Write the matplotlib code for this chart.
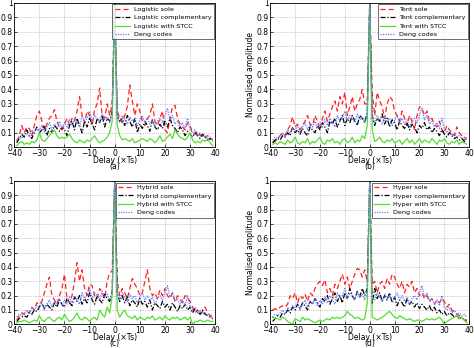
import numpy as np
import matplotlib
matplotlib.use("Agg")
import matplotlib.pyplot as plt

# delays -39 .. 39
delay = list(range(-39, 40))

# Deng codes (same reference in all four panels)
deng = [0.05, 0.07, 0.06, 0.08, 0.10, 0.07, 0.12, 0.10, 0.13, 0.12,
        0.15, 0.10, 0.14, 0.17, 0.12, 0.16, 0.14, 0.18, 0.13, 0.17,
        0.14, 0.19, 0.15, 0.20, 0.17, 0.14, 0.22, 0.18, 0.20, 0.25,
        0.18, 0.22, 0.20, 0.17, 0.23, 0.19, 0.21, 0.17, 0.22, 1.00,
        0.20, 0.17, 0.22, 0.19, 0.16, 0.21, 0.18, 0.20, 0.15, 0.19,
        0.22, 0.17, 0.20, 0.16, 0.19, 0.14, 0.18, 0.20, 0.17, 0.22,
        0.27, 0.19, 0.22, 0.16, 0.18, 0.14, 0.17, 0.13, 0.20, 0.12,
        0.10, 0.12, 0.08, 0.10, 0.07, 0.08, 0.06, 0.07, 0.05]

# (a) logistic
logistic_sole = [0.04, 0.08, 0.15, 0.10, 0.14, 0.13, 0.08, 0.15, 0.22, 0.25,
                 0.18, 0.12, 0.16, 0.20, 0.22, 0.26, 0.18, 0.14, 0.12, 0.16,
                 0.20, 0.15, 0.20, 0.18, 0.25, 0.35, 0.22, 0.17, 0.25, 0.22,
                 0.15, 0.26, 0.30, 0.41, 0.22, 0.20, 0.30, 0.22, 0.30, 1.00,
                 0.25, 0.20, 0.17, 0.22, 0.28, 0.43, 0.32, 0.22, 0.30, 0.25,
                 0.18, 0.15, 0.20, 0.22, 0.30, 0.18, 0.15, 0.20, 0.25, 0.12,
                 0.10, 0.20, 0.28, 0.29, 0.20, 0.16, 0.14, 0.12, 0.17, 0.15,
                 0.10, 0.09, 0.11, 0.08, 0.09, 0.07, 0.08, 0.07, 0.05]
logistic_comp = [0.03, 0.06, 0.09, 0.07, 0.12, 0.08, 0.06, 0.10, 0.14, 0.10,
                 0.12, 0.15, 0.08, 0.13, 0.10, 0.15, 0.13, 0.11, 0.14, 0.12,
                 0.08, 0.15, 0.18, 0.12, 0.20, 0.15, 0.10, 0.18, 0.14, 0.20,
                 0.16, 0.12, 0.20, 0.17, 0.22, 0.14, 0.20, 0.18, 0.25, 1.00,
                 0.22, 0.18, 0.20, 0.15, 0.22, 0.18, 0.14, 0.20, 0.10, 0.16,
                 0.13, 0.18, 0.15, 0.11, 0.19, 0.14, 0.12, 0.16, 0.13, 0.18,
                 0.14, 0.20, 0.15, 0.13, 0.10, 0.14, 0.12, 0.08, 0.11, 0.09,
                 0.07, 0.10, 0.08, 0.06, 0.09, 0.07, 0.05, 0.06, 0.04]
logistic_stcc = [0.01, 0.03, 0.04, 0.02, 0.03, 0.02, 0.04, 0.03, 0.05, 0.10,
                 0.05, 0.04, 0.06, 0.08, 0.10, 0.12, 0.08, 0.06, 0.07, 0.06,
                 0.07, 0.09, 0.06, 0.04, 0.03, 0.05, 0.04, 0.03, 0.05, 0.04,
                 0.06, 0.08, 0.05, 0.03, 0.04, 0.05, 0.07, 0.10, 0.18, 1.00,
                 0.15, 0.08, 0.05, 0.06, 0.05, 0.04, 0.06, 0.03, 0.04, 0.05,
                 0.06, 0.05, 0.04, 0.06, 0.05, 0.03, 0.05, 0.08, 0.04, 0.05,
                 0.07, 0.09, 0.06, 0.12, 0.09, 0.07, 0.06, 0.05, 0.07, 0.10,
                 0.05, 0.03, 0.04, 0.03, 0.05, 0.04, 0.06, 0.03, 0.01]

# (b) tent
tent_sole = [0.04, 0.04, 0.06, 0.08, 0.10, 0.08, 0.12, 0.15, 0.21, 0.14,
             0.16, 0.12, 0.15, 0.18, 0.22, 0.16, 0.15, 0.22, 0.18, 0.12,
             0.20, 0.25, 0.18, 0.23, 0.28, 0.32, 0.25, 0.35, 0.30, 0.38,
             0.22, 0.28, 0.35, 0.25, 0.30, 0.33, 0.40, 0.30, 0.30, 1.00,
             0.38, 0.22, 0.38, 0.32, 0.28, 0.20, 0.30, 0.35, 0.33, 0.25,
             0.22, 0.18, 0.25, 0.20, 0.15, 0.22, 0.18, 0.12, 0.22, 0.28,
             0.27, 0.22, 0.25, 0.18, 0.20, 0.16, 0.14, 0.18, 0.12, 0.10,
             0.15, 0.12, 0.10, 0.08, 0.14, 0.10, 0.08, 0.05, 0.07]
tent_comp = [0.03, 0.05, 0.06, 0.05, 0.08, 0.07, 0.10, 0.08, 0.14, 0.10,
             0.12, 0.09, 0.13, 0.10, 0.08, 0.14, 0.12, 0.10, 0.15, 0.12,
             0.17, 0.14, 0.10, 0.18, 0.16, 0.20, 0.14, 0.18, 0.22, 0.15,
             0.20, 0.17, 0.22, 0.18, 0.15, 0.22, 0.20, 0.17, 0.24, 1.00,
             0.22, 0.15, 0.20, 0.18, 0.23, 0.16, 0.20, 0.14, 0.19, 0.17,
             0.12, 0.18, 0.15, 0.13, 0.17, 0.12, 0.16, 0.14, 0.10, 0.15,
             0.13, 0.17, 0.12, 0.14, 0.10, 0.13, 0.11, 0.08, 0.12, 0.09,
             0.07, 0.10, 0.08, 0.06, 0.07, 0.05, 0.06, 0.04, 0.04]
tent_stcc = [0.02, 0.03, 0.02, 0.04, 0.03, 0.02, 0.05, 0.03, 0.04, 0.07,
             0.03, 0.02, 0.04, 0.03, 0.06, 0.02, 0.04, 0.03, 0.05, 0.07,
             0.03, 0.02, 0.05, 0.04, 0.06, 0.03, 0.04, 0.02, 0.05, 0.06,
             0.03, 0.04, 0.07, 0.03, 0.05, 0.04, 0.08, 0.06, 0.15, 1.00,
             0.12, 0.04, 0.05, 0.07, 0.04, 0.03, 0.05, 0.04, 0.06, 0.03,
             0.04, 0.05, 0.02, 0.04, 0.06, 0.03, 0.05, 0.02, 0.04, 0.06,
             0.03, 0.05, 0.04, 0.03, 0.06, 0.04, 0.02, 0.05, 0.04, 0.06,
             0.03, 0.02, 0.04, 0.03, 0.05, 0.02, 0.04, 0.03, 0.02]

# (c) hybrid
hybrid_sole = [0.03, 0.06, 0.08, 0.07, 0.09, 0.08, 0.12, 0.10, 0.15, 0.14,
               0.16, 0.22, 0.28, 0.33, 0.20, 0.17, 0.14, 0.20, 0.25, 0.35,
               0.18, 0.15, 0.20, 0.30, 0.43, 0.30, 0.38, 0.25, 0.20, 0.28,
               0.27, 0.20, 0.18, 0.25, 0.22, 0.18, 0.30, 0.36, 0.37, 1.00,
               0.30, 0.20, 0.25, 0.22, 0.18, 0.25, 0.32, 0.28, 0.25, 0.20,
               0.22, 0.30, 0.38, 0.25, 0.20, 0.22, 0.18, 0.24, 0.20, 0.25,
               0.20, 0.18, 0.22, 0.16, 0.20, 0.18, 0.15, 0.20, 0.19, 0.16,
               0.12, 0.08, 0.10, 0.07, 0.09, 0.12, 0.08, 0.06, 0.04]
hybrid_comp = [0.02, 0.04, 0.05, 0.06, 0.05, 0.08, 0.07, 0.10, 0.09, 0.12,
               0.15, 0.11, 0.14, 0.12, 0.10, 0.15, 0.12, 0.17, 0.14, 0.12,
               0.18, 0.15, 0.13, 0.19, 0.16, 0.20, 0.14, 0.18, 0.15, 0.22,
               0.17, 0.14, 0.20, 0.17, 0.15, 0.21, 0.18, 0.16, 0.23, 1.00,
               0.22, 0.16, 0.20, 0.15, 0.19, 0.13, 0.17, 0.15, 0.12, 0.18,
               0.14, 0.16, 0.12, 0.17, 0.10, 0.15, 0.13, 0.11, 0.16, 0.12,
               0.14, 0.10, 0.15, 0.12, 0.09, 0.13, 0.11, 0.14, 0.10, 0.12,
               0.08, 0.11, 0.09, 0.07, 0.10, 0.07, 0.06, 0.05, 0.04]
hybrid_stcc = [0.01, 0.02, 0.02, 0.03, 0.02, 0.01, 0.02, 0.03, 0.02, 0.06,
               0.03, 0.02, 0.04, 0.05, 0.03, 0.02, 0.04, 0.05, 0.03, 0.07,
               0.04, 0.02, 0.03, 0.05, 0.08, 0.04, 0.03, 0.05, 0.04, 0.02,
               0.04, 0.05, 0.03, 0.10, 0.07, 0.05, 0.12, 0.08, 0.20, 1.00,
               0.10, 0.05, 0.08, 0.10, 0.06, 0.05, 0.04, 0.06, 0.03, 0.05,
               0.04, 0.03, 0.05, 0.04, 0.06, 0.03, 0.04, 0.05, 0.03, 0.06,
               0.04, 0.03, 0.05, 0.04, 0.05, 0.03, 0.04, 0.05, 0.03, 0.05,
               0.00, 0.02, 0.02, 0.03, 0.02, 0.02, 0.03, 0.02, 0.02]

# (d) hyper
hyper_sole = [0.10, 0.11, 0.10, 0.12, 0.13, 0.12, 0.14, 0.20, 0.18, 0.22,
              0.15, 0.20, 0.18, 0.21, 0.16, 0.22, 0.20, 0.25, 0.28, 0.30,
              0.27, 0.31, 0.22, 0.25, 0.20, 0.28, 0.25, 0.30, 0.35, 0.28,
              0.33, 0.25, 0.30, 0.35, 0.39, 0.38, 0.33, 0.38, 0.30, 1.00,
              0.28, 0.30, 0.22, 0.28, 0.30, 0.25, 0.32, 0.28, 0.35, 0.33,
              0.28, 0.25, 0.30, 0.22, 0.28, 0.26, 0.30, 0.22, 0.25, 0.20,
              0.22, 0.18, 0.20, 0.16, 0.18, 0.14, 0.17, 0.15, 0.18, 0.16,
              0.12, 0.14, 0.10, 0.08, 0.07, 0.06, 0.05, 0.03, 0.02]
hyper_comp = [0.02, 0.04, 0.06, 0.05, 0.08, 0.07, 0.10, 0.08, 0.12, 0.10,
              0.14, 0.11, 0.15, 0.13, 0.10, 0.16, 0.14, 0.18, 0.15, 0.12,
              0.18, 0.16, 0.20, 0.14, 0.18, 0.22, 0.16, 0.20, 0.15, 0.22,
              0.18, 0.25, 0.20, 0.17, 0.23, 0.19, 0.25, 0.20, 0.25, 1.00,
              0.14, 0.25, 0.18, 0.22, 0.16, 0.20, 0.17, 0.22, 0.15, 0.19,
              0.13, 0.17, 0.15, 0.12, 0.18, 0.14, 0.16, 0.12, 0.15, 0.11,
              0.14, 0.12, 0.10, 0.13, 0.09, 0.12, 0.08, 0.10, 0.07, 0.09,
              0.06, 0.08, 0.07, 0.05, 0.06, 0.04, 0.05, 0.03, 0.03]
hyper_stcc = [0.05, 0.04, 0.04, 0.03, 0.05, 0.04, 0.02, 0.01, 0.00, 0.04,
              0.03, 0.02, 0.05, 0.03, 0.04, 0.03, 0.02, 0.01, 0.02, 0.03,
              0.02, 0.03, 0.04, 0.03, 0.05, 0.04, 0.05, 0.04, 0.05, 0.06,
              0.09, 0.07, 0.06, 0.04, 0.05, 0.04, 0.03, 0.04, 0.15, 1.00,
              0.05, 0.04, 0.03, 0.04, 0.05, 0.06, 0.08, 0.09, 0.07, 0.05,
              0.04, 0.06, 0.05, 0.04, 0.03, 0.04, 0.03, 0.02, 0.03, 0.03,
              0.02, 0.03, 0.04, 0.03, 0.04, 0.03, 0.04, 0.05, 0.03, 0.00,
              0.02, 0.03, 0.04, 0.05, 0.06, 0.04, 0.05, 0.03, 0.01]

panels = [
    ("Logistic", logistic_sole, logistic_comp, logistic_stcc, "(a)"),
    ("Tent", tent_sole, tent_comp, tent_stcc, "(b)"),
    ("Hybrid", hybrid_sole, hybrid_comp, hybrid_stcc, "(c)"),
    ("Hyper", hyper_sole, hyper_comp, hyper_stcc, "(d)"),
]

# axes rectangles in figure fractions (left, bottom, width, height)
rects = [
    (0.030, 0.577, 0.424, 0.415),
    (0.570, 0.577, 0.420, 0.415),
    (0.030, 0.068, 0.424, 0.412),
    (0.570, 0.068, 0.420, 0.412),
]

fs = 5.5
fig = plt.figure(figsize=(4.74, 3.48), dpi=100)

for (name, sole, comp, stcc, tag), rect in zip(panels, rects):
    ax = fig.add_axes(rect)
    ax.plot(delay, sole, color="#ff2020", ls=(0, (4, 2.5)), lw=0.9, label=name + " sole")
    ax.plot(delay, comp, color="black", ls=(0, (4, 1.5, 1, 1.5)), lw=0.9, label=name + " complementary")
    ax.plot(delay, stcc, color="#55dd33", ls="-", lw=0.9, label=name + " with STCC")
    ax.plot(delay, deng, color="#6677ff", ls=(0, (1, 1)), lw=0.9, label="Deng codes")
    ax.set_xlim(-40, 40)
    ax.set_ylim(0, 1)
    ax.set_xticks(range(-40, 41, 10))
    ax.set_yticks(np.arange(0, 1.01, 0.1))
    ax.set_yticklabels(["0", "0.1", "0.2", "0.3", "0.4", "0.5", "0.6", "0.7", "0.8", "0.9", "1"])
    ax.tick_params(labelsize=fs, length=2, width=0.5, pad=1.0, direction="in")
    ax.grid(True, ls=":", color="#999999", lw=0.5)
    for s in ax.spines.values():
        s.set_linewidth(0.6)
    ax.set_ylabel("Normalised amplitude", fontsize=fs, labelpad=1)
    ax.set_xlabel("Delay (\u00d7Ts)", fontsize=fs, labelpad=-1.0)
    ax.annotate(tag, xy=(0.5, 0), xycoords="axes fraction", xytext=(0, -14.0),
                textcoords="offset points", ha="center", va="center", fontsize=fs)
    leg = ax.legend(loc="upper right", fontsize=4.6, frameon=True, fancybox=False,
                    borderpad=0.35, labelspacing=0.45, handlelength=2.4, handletextpad=0.6,
                    borderaxespad=0.25)
    leg.get_frame().set_edgecolor("black")
    leg.get_frame().set_linewidth(0.5)

fig.savefig("out.png", dpi=100)
